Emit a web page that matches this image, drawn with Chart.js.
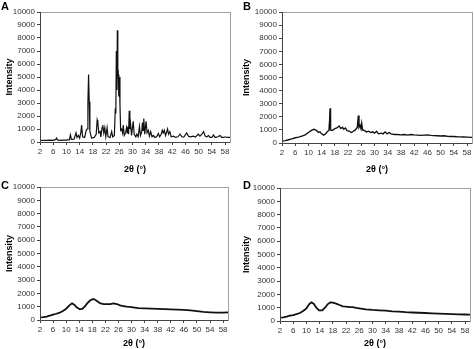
<!DOCTYPE html>
<html>
<head>
<meta charset="utf-8">
<script src="https://cdn.jsdelivr.net/npm/chart.js@4.4.1/dist/chart.umd.min.js"></script>
<style>
  body { margin: 0; background: #fff; width: 474px; height: 349px; position: relative; overflow: hidden; }
  .panel { position: absolute; }
  .tag { position: absolute; font: bold 11px "Liberation Sans", Arial, sans-serif; color: #000; }
</style>
</head>
<body>
<div class="panel" style="left:0;top:0"><canvas id="chartA" width="237" height="175"></canvas></div>
<div class="panel" style="left:237px;top:0"><canvas id="chartB" width="237" height="175"></canvas></div>
<div class="panel" style="left:0;top:175px"><canvas id="chartC" width="237" height="174"></canvas></div>
<div class="panel" style="left:237px;top:175px"><canvas id="chartD" width="237" height="174"></canvas></div>
<div class="tag" style="left:1px;top:0">A</div>
<div class="tag" style="left:243px;top:0">B</div>
<div class="tag" style="left:1px;top:179px">C</div>
<div class="tag" style="left:243px;top:179px">D</div>
<script>
// 2θ tick labels and y range
const xTicks = [2, 6, 10, 14, 18, 22, 26, 30, 34, 38, 42, 46, 50, 54, 58];
const yTicks = [0, 1000, 2000, 3000, 4000, 5000, 6000, 7000, 8000, 9000, 10000];

// panel A - crystalline
const aX = [2, 3, 4, 5, 6, 6.8, 7.0, 7.3, 8, 9, 10, 10.9, 11.2, 11.5, 12.3, 12.9, 13.2, 13.6, 14.0, 14.4, 14.6, 14.9, 15.5, 16.0, 16.3, 16.5, 16.7, 16.9, 17.1, 17.6, 18.4, 19.0, 19.3, 19.5, 19.8, 20.2, 20.4, 20.8, 21.0, 21.3, 21.6, 21.9, 22.3, 22.6, 23.2, 23.7, 24.0, 24.5, 24.8, 24.95, 25.1, 25.3, 25.4, 25.55, 25.7, 25.85, 26.0, 26.2, 26.4, 26.7, 27.0, 27.2, 27.5, 27.9, 28.2, 28.4, 28.6, 28.8, 29.0, 29.2, 29.4, 29.7, 30.2, 30.5, 31.0, 31.3, 31.7, 32.1, 32.4, 32.8, 33.0, 33.2, 33.4, 33.7, 34.1, 34.4, 34.8, 35.1, 35.5, 35.9, 36.3, 36.8, 37.3, 37.8, 38.2, 38.7, 39.0, 39.3, 39.6, 40.0, 40.6, 40.9, 41.3, 41.7, 42.4, 43.0, 43.7, 44.4, 44.9, 45.5, 46.4, 46.9, 47.5, 48.4, 49.0, 49.9, 50.4, 51.0, 51.5, 52.0, 52.5, 53.0, 53.5, 54.0, 54.5, 55.0, 55.8, 56.5, 57.0, 57.5, 58.0, 58.6, 59.5];
const aY = [120, 130, 120, 140, 130, 200, 300, 160, 130, 140, 150, 180, 550, 200, 220, 700, 350, 500, 300, 800, 1300, 400, 350, 900, 1000, 3000, 5200, 3100, 800, 300, 350, 600, 1700, 1500, 700, 800, 400, 1100, 1300, 700, 1100, 400, 1100, 400, 350, 800, 400, 500, 2600, 2200, 7000, 4000, 8600, 5000, 5200, 3500, 5000, 2900, 900, 1000, 700, 1300, 500, 700, 1100, 700, 1200, 600, 2400, 1000, 1400, 500, 1600, 600, 400, 600, 400, 1200, 500, 800, 1500, 900, 1800, 600, 1600, 700, 900, 450, 800, 400, 500, 350, 400, 650, 400, 600, 900, 700, 900, 500, 1000, 600, 800, 400, 450, 350, 400, 600, 400, 380, 700, 450, 400, 450, 380, 600, 450, 600, 800, 450, 400, 500, 350, 350, 550, 350, 400, 500, 350, 350, 400, 350, 350];

// panel B
const bX = [2, 3, 4, 5, 6, 7, 8, 9, 10, 11, 11.7, 12.5, 13, 13.5, 14, 14.6, 15.2, 15.8, 16.2, 16.4, 16.55, 16.7, 17.2, 18, 18.6, 19.3, 19.8, 20.3, 20.7, 21.2, 21.7, 22.3, 23, 23.6, 24.2, 24.8, 25.1, 25.3, 25.6, 25.9, 26.1, 26.4, 27, 27.6, 28.2, 28.8, 29.5, 30, 30.6, 31.2, 32, 32.6, 33.2, 33.8, 34.4, 35, 36, 37, 38, 39, 40, 41, 42, 43, 44, 45, 46, 47, 48, 49, 50, 51, 52, 53, 54, 55, 56, 57, 58, 59.5];
const bY = [150, 180, 250, 320, 400, 450, 520, 620, 800, 980, 1050, 950, 800, 850, 700, 600, 700, 900, 950, 1700, 2650, 1000, 950, 1100, 1150, 1300, 1100, 1200, 1050, 1150, 950, 900, 800, 900, 1000, 1200, 2100, 1200, 1350, 1100, 1500, 1000, 950, 850, 900, 800, 850, 750, 900, 700, 750, 700, 850, 700, 800, 700, 650, 650, 620, 650, 600, 650, 620, 600, 580, 600, 620, 580, 560, 550, 540, 550, 520, 500, 500, 480, 470, 460, 450, 430];

// panel C
const cX = [2, 3, 4, 5, 6, 7, 8, 9, 10, 11, 11.8, 12.5, 13.2, 14.2, 15, 15.8, 16.6, 17.5, 18.3, 19, 19.8, 20.5, 21.5, 22.5, 23.5, 24.5, 25.5, 26.5, 27.5, 28.5, 29.5, 30.5, 32, 34, 36, 38, 40, 42, 44, 46, 48, 50, 52, 54, 56, 58, 59.5];
const cY = [200, 220, 250, 330, 400, 470, 550, 680, 850, 1100, 1250, 1150, 950, 800, 850, 1050, 1300, 1500, 1580, 1500, 1350, 1250, 1200, 1200, 1200, 1250, 1200, 1100, 1050, 1000, 980, 950, 900, 880, 850, 830, 820, 800, 780, 760, 720, 660, 610, 580, 560, 550, 570];

// panel D
const dX = [2, 3, 4, 5, 6, 7, 8, 9, 10, 10.8, 11.5, 12.2, 13, 13.8, 14.8, 15.6, 16.4, 17.2, 18, 19, 20, 21, 22, 23, 24, 25, 26, 28, 30, 32, 34, 36, 38, 40, 42, 44, 46, 48, 50, 52, 54, 56, 58, 59.5];
const dY = [250, 280, 330, 400, 450, 520, 600, 750, 950, 1250, 1400, 1300, 1000, 800, 800, 1000, 1250, 1400, 1380, 1300, 1200, 1100, 1080, 1050, 1050, 980, 950, 880, 830, 800, 780, 730, 700, 660, 640, 620, 600, 580, 560, 540, 520, 500, 490, 480];

const FONT = "'Liberation Sans', Arial, sans-serif";

// grey box round the plot area
const frame = {
  id: "frame",
  afterDraw(chart) {
    const a = chart.chartArea;
    const c = chart.ctx;
    c.save();
    c.strokeStyle = "#a0a0a0";
    c.lineWidth = 1;
    c.strokeRect(Math.round(a.left) + 0.5, Math.round(a.top) + 0.5, Math.round(a.right - a.left), Math.round(a.bottom - a.top));
    c.strokeStyle = "#444";
    c.beginPath();
    c.moveTo(Math.round(a.left) + 0.5, a.top);
    c.lineTo(Math.round(a.left) + 0.5, a.bottom + 0.5);
    c.lineTo(a.right, Math.round(a.bottom) + 0.5);
    c.stroke();
    c.restore();
  },
};

function makePanel(id, xs, ys, box) {
  const pts = xs.map(function (x, i) { return { x: x, y: ys[i] }; });
  new Chart(document.getElementById(id), {
    type: "line",
    data: {
      datasets: [{
        data: pts,
        borderColor: "#111",
        borderWidth: box.lw,
        pointRadius: 0,
        tension: 0,
      }],
    },
    options: {
      responsive: false,
      animation: false,
      layout: { padding: { top: box.top, right: box.right, left: 0, bottom: 0 } },
      plugins: { legend: { display: false }, tooltip: { enabled: false } },
      scales: {
        x: {
          type: "linear",
          min: 2,
          max: 59.5,
          afterBuildTicks: function (s) { s.ticks = xTicks.map(function (v) { return { value: v }; }); },
          afterFit: function (s) { s.height = box.xh; },
          grid: { drawOnChartArea: false, tickLength: 3, color: "#444" },
          border: { display: false },
          ticks: { color: "#333", font: { family: FONT, size: 8 }, padding: 2, maxRotation: 0, autoSkip: false, callback: function (v) { return String(v); } },
          title: { display: true, text: "2θ (°)", color: "#000", font: { family: FONT, size: 9, weight: "bold" }, padding: { top: 4, bottom: 0 } },
        },
        y: {
          min: 0,
          max: 10000,
          afterBuildTicks: function (s) { s.ticks = yTicks.map(function (v) { return { value: v }; }); },
          afterFit: function (s) { s.width = box.left; },
          grid: { drawOnChartArea: false, tickLength: 3, color: "#444" },
          border: { display: false },
          ticks: { color: "#333", font: { family: FONT, size: 8 }, padding: 2, callback: function (v) { return String(v); } },
          title: { display: true, text: "Intensity", color: "#000", font: { family: FONT, size: 9, weight: "bold" }, padding: { top: 4, bottom: 0 } },
        },
      },
    },
    plugins: [frame],
  });
}

makePanel("chartA", aX, aY, { left: 40, right: 7, top: 12, xh: 33, lw: 1.2 });
makePanel("chartB", bX, bY, { left: 45, right: 2, top: 12, xh: 32, lw: 1.4 });
makePanel("chartC", cX, cY, { left: 40, right: 9, top: 12, xh: 29, lw: 1.8 });
makePanel("chartD", dX, dY, { left: 43, right: 4, top: 13, xh: 28, lw: 1.8 });
</script>
</body>
</html>
